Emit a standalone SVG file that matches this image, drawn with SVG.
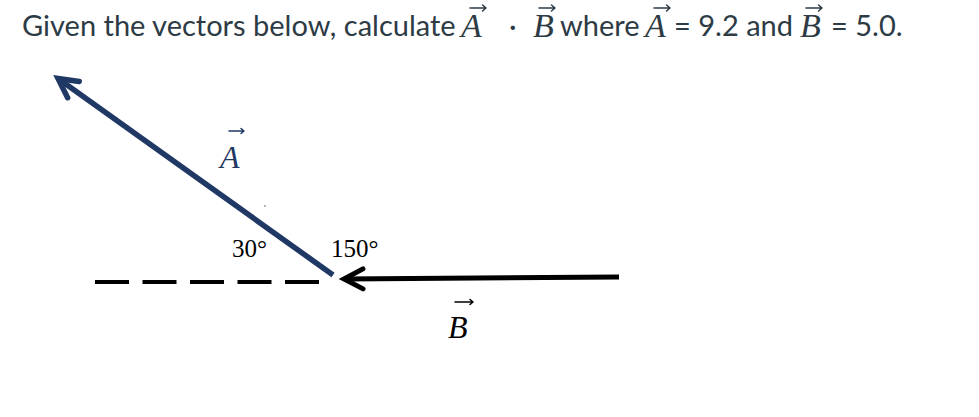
<svg xmlns="http://www.w3.org/2000/svg" width="979" height="417" viewBox="0 0 979 417">
<defs>
<style>
.title{font-family:Lato,"Open Sans","Liberation Sans",sans-serif;font-size:29px;fill:#2d3b45}
.math{font-family:"Liberation Serif","DejaVu Serif",serif;font-style:italic;font-size:34px;fill:#2d3b45}
.vecbar{stroke:#2d3b45;stroke-width:1.5;fill:none;stroke-linecap:round;stroke-linejoin:round}
.lbl{font-family:"Liberation Serif","DejaVu Serif",serif;font-size:25px;fill:#000}
.vlabel{font-family:"Liberation Serif","DejaVu Serif",serif;font-style:italic;font-size:32px}
</style>
<marker id="headNavy" markerUnits="userSpaceOnUse" viewBox="-26 -16 32 32" refX="0" refY="0" markerWidth="32" markerHeight="32" orient="auto">
<path d="M-19,-10 L0,0 L-19,10" fill="none" stroke="#1f3864" stroke-width="5.5" stroke-linecap="round" stroke-linejoin="miter"/>
</marker>
<marker id="headBlack" markerUnits="userSpaceOnUse" viewBox="-26 -16 32 32" refX="0" refY="0" markerWidth="32" markerHeight="32" orient="auto">
<path d="M-19,-10 L0,0 L-19,10" fill="none" stroke="#000" stroke-width="5" stroke-linecap="round" stroke-linejoin="miter"/>
</marker>
</defs>
<rect width="979" height="417" fill="#fff"/>
<g id="title">
<text class="title" x="22" y="36">Given the vectors below, calculate</text>
<text class="math" x="461" y="37">A</text>
<path class="vecbar" d="M470,8 H486 M482.5,5 L486,8 L482.5,11"/>
<text class="title" x="509" y="36">·</text>
<text class="math" x="533" y="37">B</text>
<path class="vecbar" d="M539,8 H555 M551.5,5 L555,8 L551.5,11"/>
<text class="title" x="560" y="36">where</text>
<text class="math" x="645" y="37">A</text>
<path class="vecbar" d="M654,8 H670 M666.5,5 L670,8 L666.5,11"/>
<text class="title" x="674" y="36">= 9.2 and</text>
<text class="math" x="800" y="37">B</text>
<path class="vecbar" d="M806,8 H822 M818.5,5 L822,8 L818.5,11"/>
<text class="title" x="831" y="36">= 5.0.</text>
</g>
<g id="connectors">
<path id="vecA" d="M333,275 L58,78.5" stroke="#1f3864" stroke-width="5.5" fill="none" marker-end="url(#headNavy)"/>
<path id="vecB" d="M619,277 L344,279" stroke="#000" stroke-width="5" fill="none" marker-end="url(#headBlack)"/>
<path id="reference" d="M95,282 H320" stroke="#000" stroke-width="4" stroke-dasharray="34 13.5" fill="none"/>
</g>
<g id="labelA">
<text class="vlabel" x="220" y="168" fill="#1f3864">A</text>
<path d="M229,131 H244 M241,128.5 L244,131 L241,133.5" stroke="#1f3864" stroke-width="1.5" fill="none" stroke-linecap="round" stroke-linejoin="round"/>
</g>
<g id="labelB">
<text class="vlabel" x="448" y="338" fill="#000">B</text>
<path d="M455,302 H473 M470,299.5 L473,302 L470,304.5" stroke="#000" stroke-width="1.5" fill="none" stroke-linecap="round" stroke-linejoin="round"/>
</g>
<g id="angle30"><text class="lbl" x="232" y="257">30°</text></g>
<g id="angle150"><text class="lbl" x="331" y="257">150°</text></g>
<circle cx="265" cy="206" r="0.8" fill="#555"/>
</svg>
